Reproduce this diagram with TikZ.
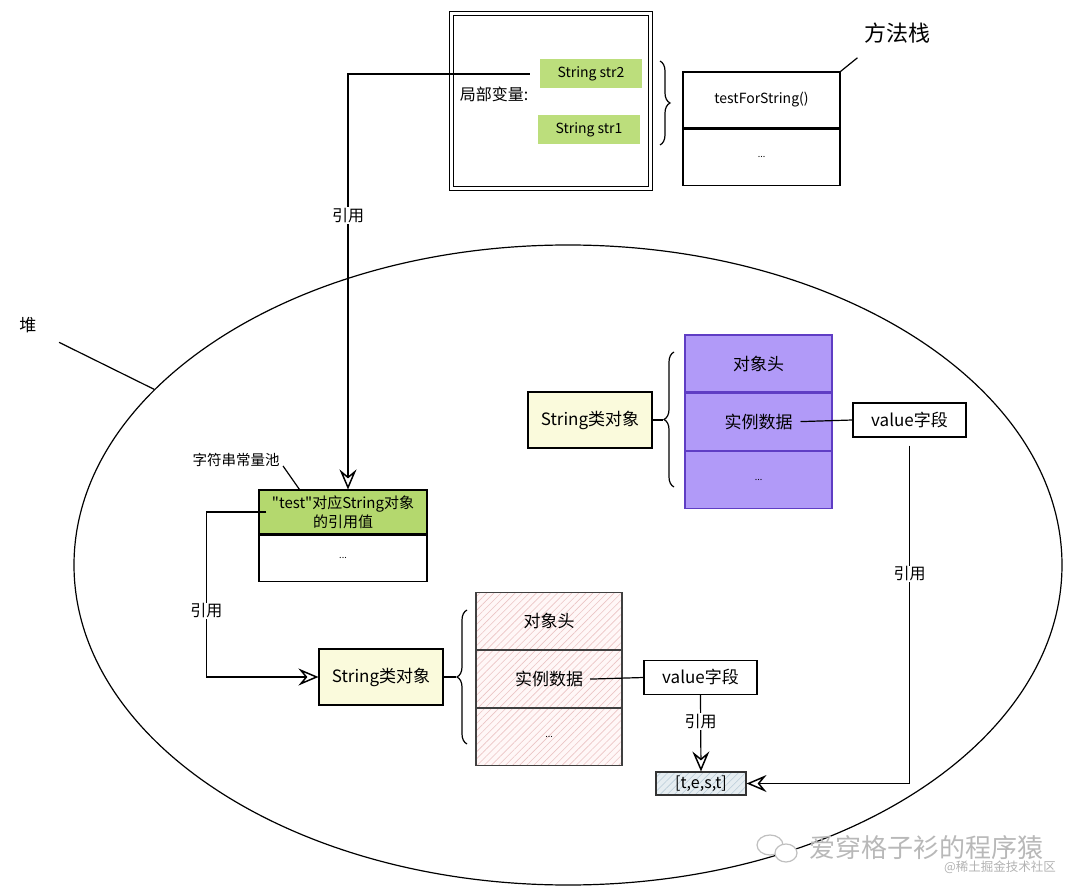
\documentclass[tikz,border=0pt]{standalone}
\usepackage{fontspec}
\setmainfont{Noto Sans CJK SC}[Ligatures=TeXOff]
\usetikzlibrary{arrows.meta, positioning, shapes.geometric, patterns.meta, decorations.pathreplacing, calc}

\definecolor{varGreen}{HTML}{BCDE7C}
\definecolor{poolGreen}{HTML}{B4D86E}
\definecolor{objYellow}{HTML}{FAFADC}
\definecolor{cellPurple}{HTML}{B19AF8}
\definecolor{cellBorder}{HTML}{5F3DC4}
\definecolor{hatchPink}{HTML}{EBC4C4}
\definecolor{hatchBlue}{HTML}{B9CCD8}

\begin{document}
\begin{tikzpicture}[
    x=1pt, y=-1pt,
    font=\fontsize{16}{20}\selectfont,
    box/.style={rectangle, draw=black, line width=1.1pt, align=center, inner sep=2pt},
    varbox/.style={rectangle, fill=varGreen, minimum width=102pt, minimum height=29pt, font=\fontsize{14}{17}\selectfont},
    stackcell/.style={box, minimum width=157pt, minimum height=56pt, font=\fontsize{14}{17}\selectfont},
    strobj/.style={box, fill=objYellow, minimum width=124pt, minimum height=56pt, font=\fontsize{17}{20}\selectfont},
    pcell/.style={box, draw=cellBorder, fill=cellPurple, minimum width=147pt, minimum height=57pt, font=\fontsize{17}{20}\selectfont},
    hatched/.style 2 args={preaction={fill=#1}, preaction={pattern={Lines[angle=45, distance=5pt, line width=0.6pt]}, pattern color=#2}},
    hcell/.style={box, draw=black!75, hatched={red!3}{hatchPink}, minimum width=146pt, minimum height=57pt, font=\fontsize{17}{20}\selectfont},
    valbox/.style={box, minimum width=113pt, minimum height=34pt, font=\fontsize{17}{20}\selectfont},
    dots/.style={font=\fontsize{9}{10}\selectfont},
    link/.style={line width=1.2pt},
    arrow/.style={link, -{Stealth[open, length=20pt, width=17pt, inset=7pt, line width=1.5pt]}},
    brace/.style={link, decorate, decoration={brace, amplitude=10pt}},
    reflabel/.style={fill=white, inner sep=1pt}
]
\useasboundingbox (0,0) rectangle (1080,896);

% method stack
\node[box, double, double distance=2.5pt, line width=0.8pt, minimum width=199pt, minimum height=175pt] (frame) at (551,101) {};
\node (localvar) at (494,94) {局部变量:};
\node[varbox] (str2) at (591,74) {String str2};
\node[varbox] (str1) at (589,130) {String str1};
\node[stackcell] (method) at (761.5,100) {testForString()};
\node[stackcell, below=0pt of method, dots] (methodmore) {...};
\node[font=\fontsize{22}{26}\selectfont] (stacklabel) at (897,33) {方法栈};
\draw[link] (method.north east) -- ($(stacklabel.south west)+(-3,11)$);
\draw[brace] (660,61) -- (660,145);

% heap
\node[draw, ellipse, link, minimum width=988pt, minimum height=640pt, inner sep=0pt] (heap) at (568,565) {};
\node[font=\fontsize{17}{20}\selectfont] (heaplabel) at (28,325) {堆};
\draw[link] ($(heaplabel.south east)+(19,6)$) -- (heap.157);

% string pool
\node[box, fill=poolGreen, minimum width=168pt, minimum height=44pt, font=\fontsize{15}{19}\selectfont] (pool) at (343,512) {"test"对应String对象\\的引用值};
\node[box, below=0pt of pool, minimum width=168pt, minimum height=46pt, dots] (poolmore) {...};
\node[font=\fontsize{14.5}{17}\selectfont] (poollabel) at (236,460) {字符串常量池};
\draw[link] ($(poollabel.east)+(0,6)$) -- ($(pool.north west)+(41,0)$);

\draw[arrow] ([xshift=-10pt]str2.west) -| ([xshift=5pt]pool.north) node[reflabel, pos=0.67] {引用};

% lower String object
\node[strobj] (strobj2) at (381,677) {String类对象};
\node[hcell] (head2) at (549,621) {对象头};
\node[hcell, below=0pt of head2] (data2) {实例数据};
\node[hcell, below=0pt of data2, dots] (more2) {...};
\draw[brace] (467,744) -- (467,610);
\draw[link] (strobj2.east) -- ++(12,0);
\node[valbox] (val2) at (700.5,677.5) {value字段};
\draw[link] ([xshift=41pt]data2.center) -- (val2.west);
\node[box, draw=black!80, hatched={hatchBlue!35}{hatchBlue}, minimum width=90pt, minimum height=23pt] (chars) at (701,783.5) {[t,e,s,t]};
\draw[arrow] (val2.south) -- (chars.north) node[reflabel, pos=0.35] {引用};

\draw[arrow] ([xshift=8pt]pool.west) -- ++(-60,0) |- node[reflabel, pos=0.3] {引用} (strobj2.west);

% upper String object
\node[strobj] (strobj1) at (590,420) {String类对象};
\node[pcell] (head1) at (758.5,363.5) {对象头};
\node[pcell, below=0pt of head1] (data1) {实例数据};
\node[pcell, below=0pt of data1, dots] (more1) {...};
\draw[brace] (674,487) -- (674,352);
\draw[link] (strobj1.east) -- ++(10,0);
\node[valbox] (val1) at (909.5,420) {value字段};
\draw[link] ([xshift=42pt]data1.center) -- (val1.west);
\draw[arrow] ([yshift=-8pt]val1.south) |- node[reflabel, pos=0.19] {引用} (chars.east);

% watermark
\draw[black!25, line width=1.2pt, fill=white] (770,845) ellipse [x radius=13, y radius=10];
\draw[black!25, line width=1.2pt, fill=white] (786,853) ellipse [x radius=11, y radius=9];
\node[text=black!28, font=\fontsize{26}{30}\selectfont] (wmname) at (926,848) {爱穿格子衫的程序猿};
\node[text=black!30, font=\fontsize{12.5}{14}\selectfont] (wmsite) at (1000,867) {@稀土掘金技术社区};
\end{tikzpicture}
\end{document}
